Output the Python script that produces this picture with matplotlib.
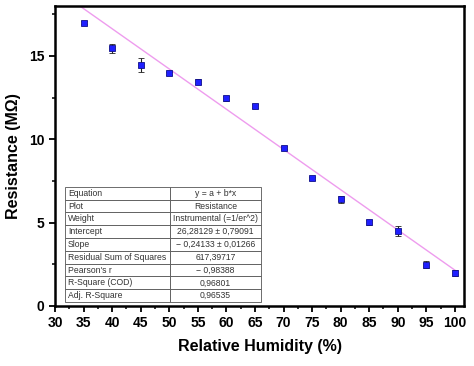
import matplotlib.pyplot as plt
from matplotlib.ticker import MultipleLocator

plt.rcParams['font.family'] = ['Liberation Sans', 'DejaVu Sans']

humidity = [35, 40, 45, 50, 55, 60, 65, 70, 75, 80, 85, 90, 95, 100]
resistance = [17.0, 15.45, 14.45, 13.96, 13.46, 12.46, 12.0, 9.5, 7.66, 6.4, 5.02, 4.5, 2.48, 1.98]
res_err = [0.1, 0.25, 0.4, 0.1, 0.15, 0.15, 0.1, 0.1, 0.1, 0.2, 0.15, 0.3, 0.2, 0.2]

intercept = 26.28129
slope = -0.24133
fit_x = [30, 100]

table_rows = [
    ["Equation", "y = a + b*x"],
    ["Plot", "Resistance"],
    ["Weight", "Instrumental (=1/er^2)"],
    ["Intercept", "26,28129 \u00b1 0,79091"],
    ["Slope", "\u2212 0,24133 \u00b1 0,01266"],
    ["Residual Sum of Squares", "617,39717"],
    ["Pearson's r", "\u2212 0,98388"],
    ["R-Square (COD)", "0,96801"],
    ["Adj. R-Square", "0,96535"],
]

fig = plt.figure(figsize=(4.74, 3.66), dpi=100)
ax = fig.add_axes([0.116, 0.164, 0.863, 0.820])

ax.plot(fit_x, [intercept + slope * x for x in fit_x], color='#ee9cee', lw=1.0, zorder=2)
ax.errorbar(humidity, resistance, yerr=res_err, fmt='s', ms=5, mfc='#1f1fff', mec='#10108a',
            mew=0.6, ecolor='#222222', elinewidth=0.8, capsize=2.5, capthick=0.8, zorder=3)

ax.set_xlim(30, 101.6)
ax.set_ylim(0, 18)
ax.xaxis.set_major_locator(MultipleLocator(5))
ax.xaxis.set_minor_locator(MultipleLocator(2.5))
ax.yaxis.set_major_locator(MultipleLocator(5))
ax.yaxis.set_minor_locator(MultipleLocator(2.5))
ax.tick_params(which='major', direction='out', length=4, width=1.3, labelsize=10)
ax.tick_params(which='minor', direction='out', length=2.5, width=1.1)
for lab in ax.get_xticklabels() + ax.get_yticklabels():
    lab.set_fontweight('bold')
for sp in ax.spines.values():
    sp.set_linewidth(1.8)

ax.set_xlabel('Relative Humidity (%)', fontsize=11.5, fontweight='bold', labelpad=6)
ax.set_ylabel('Resistance (M\u03a9)', fontsize=11.5, fontweight='bold', labelpad=6)

tbl = ax.table(cellText=table_rows, colWidths=[0.257, 0.223],
               bbox=[0.024, 0.013, 0.48, 0.384], zorder=4)
tbl.auto_set_font_size(False)
tbl.set_fontsize(6.2)
for (r, c), cell in tbl.get_celld().items():
    cell.set_edgecolor('#555555')
    cell.set_linewidth(0.6)
    cell.get_text().set_color('#333333')
    cell.set_clip_on(True)
    if c == 0:
        cell.get_text().set_ha('left')
        cell.PAD = 0.03
    else:
        cell.get_text().set_ha('center')
        cell.PAD = 0.0

fig.savefig('out.png', dpi=100)
